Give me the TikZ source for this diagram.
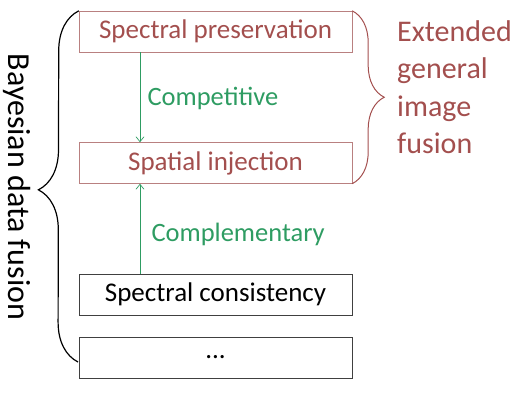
\documentclass[tikz,border=0pt]{standalone}
\usepackage{fontspec}
\setmainfont{Carlito}
\usetikzlibrary{arrows.meta,positioning,decorations.pathreplacing}
\definecolor{extred}{HTML}{A34F4E}
\definecolor{boxred}{HTML}{B98080}
\definecolor{relgreen}{HTML}{2E9C62}

\begin{document}
\begin{tikzpicture}[x=1pt,y=-1pt,
  stagebox/.style={draw,minimum width=273pt,minimum height=41pt,inner sep=0pt,font=\fontsize{27}{30}\selectfont},
  relarrow/.style={relgreen,line width=0.7pt,-{Straight Barb[length=5pt,width=8pt]}},
  rellabel/.style={relgreen,anchor=west,font=\fontsize{26.5}{30}\selectfont}]
  \useasboundingbox (0,0) rectangle (527,399);
  % stages
  \node[stagebox,boxred,text=extred] (pres) at (215.5,31.5) {Spectral preservation};
  \node[stagebox,boxred,text=extred] (inj) at (215.5,163) {Spatial injection};
  \node[stagebox,black!75,text=black] (cons) at (215.5,294.5) {Spectral consistency};
  \node[stagebox,black!75,text=black] (more) at (215.5,357.5) {...};
  % relations
  \draw[relarrow] (pres.south -| 140,0) -- (inj.north -| 140,0);
  \node[rellabel] (compet) at (144,98) {Competitive};
  \draw[relarrow] (cons.north -| 140,0) -- (inj.south -| 140,0);
  \node[rellabel] (compl) at (148,234) {Complementary};
  % groups
  \coordinate (bayestop) at (pres.north west);
  \coordinate (bayesbot) at (78,362);
  \draw[black,line width=1.2pt,decorate,decoration={brace,amplitude=40pt,aspect=0.49}] (bayesbot) -- (bayestop);
  \node[rotate=-90,font=\fontsize{32}{36}\selectfont] (bayes) at (17,187) {Bayesian data fusion};
  \draw[extred,line width=1pt,decorate,decoration={brace,amplitude=32pt}] (pres.north east) -- (inj.south east);
  \node[extred,anchor=north west,align=left,inner sep=0pt,font=\fontsize{30}{37.5}\selectfont] (ext) at (397,20) {Extended\\general\\image\\fusion};
\end{tikzpicture}
\end{document}
